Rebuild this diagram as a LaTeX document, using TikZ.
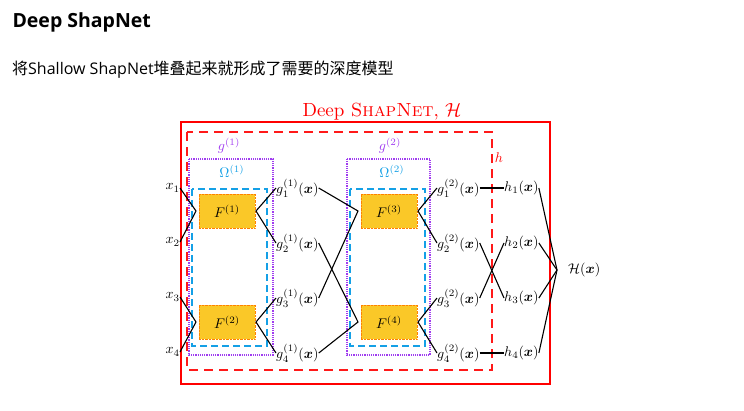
\documentclass[tikz,border=0pt]{standalone}
\usepackage{amsmath}
\usepackage{fontspec}
\newfontfamily\cjk{Noto Sans CJK SC}
\newfontfamily\osans{Open Sans}
\definecolor{pur}{RGB}{160,60,240}
\definecolor{blu}{RGB}{20,160,230}
\definecolor{yel}{RGB}{250,200,40}
\newcommand\lbl[1]{\scalebox{1.4}{#1}}
\begin{document}
\begin{tikzpicture}[x=1pt,y=-1pt,
  lab/.style={inner sep=0pt},
  fbox/.style={fill=yel,draw=orange,densely dotted,minimum width=56pt,minimum height=34pt,inner sep=0pt},
  wire/.style={black,line width=1.1pt},
  pbox/.style={color=pur,densely dotted,line width=1.2pt},
  bbox/.style={color=blu,dash pattern=on 7pt off 4pt,line width=1.2pt},
  ]
\useasboundingbox (0,0) rectangle (744,410);
\node[anchor=west,font=\osans\bfseries\fontsize{19.5}{22}\selectfont] (head) at (9,22) {Deep ShapNet};
\node[anchor=west,font=\fontsize{16}{19}\selectfont,inner sep=0pt] (sub) at (12,70) {{\cjk 将}{\osans Shallow ShapNet}{\cjk 堆叠起来就形成了需要的深度模型}};
\node[red,inner sep=0pt] (title) at (382,112) {\scalebox{1.9}{Deep \textsc{ShapNet}, $\mathcal{H}$}};
\draw[red,line width=1.3pt] (181,122) rectangle (550,384);
\draw[red!90,dash pattern=on 9pt off 6pt,line width=1.3pt] (187,132) rectangle (492,370);
\draw[pbox] (189,159) rectangle (273,355);
\draw[pbox] (347,159) rectangle (430,355);
\draw[bbox] (192,189) rectangle (267,346);
\draw[bbox] (350,189) rectangle (425,346);
\node[pur,lab] (lg1) at (229,146) {\lbl{$g^{(1)}$}};
\node[pur,lab] (lg2) at (390,146) {\lbl{$g^{(2)}$}};
\node[blu,lab] (lo1) at (232,171) {\lbl{$\Omega^{(1)}$}};
\node[blu,lab] (lo2) at (392,171) {\lbl{$\Omega^{(2)}$}};
\node[red,lab] (lh) at (499,158) {\lbl{$h$}};
\node[fbox] (F1) at (227,211) {\lbl{$F^{(1)}$}};
\node[fbox] (F2) at (227,322) {\lbl{$F^{(2)}$}};
\node[fbox] (F3) at (389,211) {\lbl{$F^{(3)}$}};
\node[fbox] (F4) at (389,322) {\lbl{$F^{(4)}$}};
\coordinate (F1w) at (196,211); \coordinate (F2w) at (196,322);
\coordinate (F3w) at (358,211); \coordinate (F4w) at (358,322);
\coordinate (F1e) at (256,211); \coordinate (F2e) at (256,322);
\coordinate (F3e) at (418,211); \coordinate (F4e) at (418,322);
\foreach \i/\y in {1/188,2/242,3/297,4/352}{
  \node[lab,anchor=east] (x\i) at (180,\y) {\lbl{$x_{\i}$}};
}
\foreach \i/\y in {1/188,2/243,3/298,4/353}{
  \node[lab,anchor=west] (a\i) at (276,\y) {\lbl{$g^{(1)}_{\i}(\boldsymbol{x})$}};
  \node[lab,anchor=west] (b\i) at (437,\y) {\lbl{$g^{(2)}_{\i}(\boldsymbol{x})$}};
  \node[lab,anchor=west] (h\i) at (504,\y) {\lbl{$h_{\i}(\boldsymbol{x})$}};
}
\node[lab,anchor=west] (H) at (568,270) {\lbl{$\mathcal{H}(\boldsymbol{x})$}};
\coordinate (Hw) at (557,270);
\draw[wire] (x1.east) -- (F1w) -- (x2.east);
\draw[wire] (x3.east) -- (F2w) -- (x4.east);
\draw[wire] (a1.west) -- (F1e) -- (a2.west);
\draw[wire] (a3.west) -- (F2e) -- (a4.west);
\draw[wire] (a1.east) -- (F3w) -- (a3.east);
\draw[wire] (a2.east) -- (F4w) -- (a4.east);
\draw[wire] (b1.west) -- (F3e) -- (b2.west);
\draw[wire] (b3.west) -- (F4e) -- (b4.west);
\draw[wire] (b1.east) -- (h1.west);
\draw[wire] (b2.east) -- (h3.west);
\draw[wire] (b3.east) -- (h2.west);
\draw[wire] (b4.east) -- (h4.west);
\foreach \i in {1,2,3,4}{\draw[wire] (h\i.east) -- (Hw);}
\end{tikzpicture}
\end{document}
